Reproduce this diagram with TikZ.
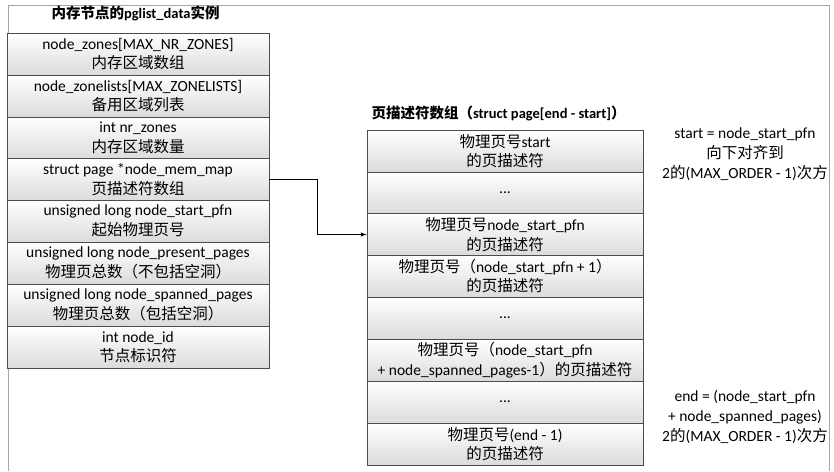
\documentclass[tikz,border=0pt]{standalone}
\usepackage{fontspec}
\setmainfont{Carlito}
\newfontfamily\cjk{Noto Sans CJK SC}
\newcommand{\zh}[1]{{\cjk #1}}
\begin{document}
\begin{tikzpicture}[x=1pt,y=-1pt,
  cell/.style={draw=black!70,line width=0.8pt,top color=white,bottom color=black!14,minimum width=262pt,minimum height=41.8pt,inner sep=0pt,align=center,font=\fontsize{15.5}{19.5}\selectfont},
  rcell/.style={cell,minimum width=276pt},
  note/.style={align=center,font=\fontsize{15.5}{20}\selectfont},
  ttl/.style={font=\bfseries\fontsize{14.5}{16}\selectfont,anchor=west}]
\useasboundingbox (0,0) rectangle (834,471);
\draw[black!35] (8,471) -- (8,5) -- (829,5) -- (829,471);
\node[ttl] (t1) at (48,13) {\zh{内存节点的}pglist\_data\zh{实例}};
\node[cell] (l1) at (138,54) {node\_zones[MAX\_NR\_ZONES]\\\zh{内存区域数组}};
\node[cell] (l2) at (138,96) {node\_zonelists[MAX\_ZONELISTS]\\\zh{备用区域列表}};
\node[cell] (l3) at (138,138) {int nr\_zones\\\zh{内存区域数量}};
\node[cell] (l4) at (138,179.5) {struct page *node\_mem\_map\\\zh{页描述符数组}};
\node[cell] (l5) at (138,221) {unsigned long node\_start\_pfn\\\zh{起始物理页号}};
\node[cell] (l6) at (138,263) {unsigned long node\_present\_pages\\\zh{物理页总数（不包括空洞）}};
\node[cell] (l7) at (138,305) {unsigned long node\_spanned\_pages\\\zh{物理页总数（包括空洞）}};
\node[cell] (l8) at (138,347) {int node\_id\\\zh{节点标识符}};
\node[ttl] (t2) at (368,113) {\zh{页描述符数组（}struct page[end - start]\zh{）}};
\node[rcell] (r1) at (505,151) {\zh{物理页号}start\\\zh{的页描述符}};
\node[rcell] (r2) at (505,193) {...};
\node[rcell] (r3) at (505,234.5) {\zh{物理页号}node\_start\_pfn\\\zh{的页描述符}};
\node[rcell] (r4) at (505,276) {\zh{物理页号（}node\_start\_pfn + 1\zh{）}\\\zh{的页描述符}};
\node[rcell] (r5) at (505,318) {...};
\node[rcell] (r6) at (505,360) {\zh{物理页号（}node\_start\_pfn\\+ node\_spanned\_pages-1\zh{）的页描述符}};
\node[rcell] (r7) at (505,402) {...};
\node[rcell] (r8) at (505,444) {\zh{物理页号}(end - 1)\\\zh{的页描述符}};
\node[note] (n1) at (745,154) {start = node\_start\_pfn\\\zh{向下对齐到}\\2\zh{的}(MAX\_ORDER - 1)\zh{次方}};
\node[note] (n2) at (745,417) {end = (node\_start\_pfn\\+ node\_spanned\_pages)\\2\zh{的}(MAX\_ORDER - 1)\zh{次方}};
\draw[line width=1pt,-latex] (l4.east) -- (317,179.5) |- (r3.west);
\end{tikzpicture}
\end{document}
